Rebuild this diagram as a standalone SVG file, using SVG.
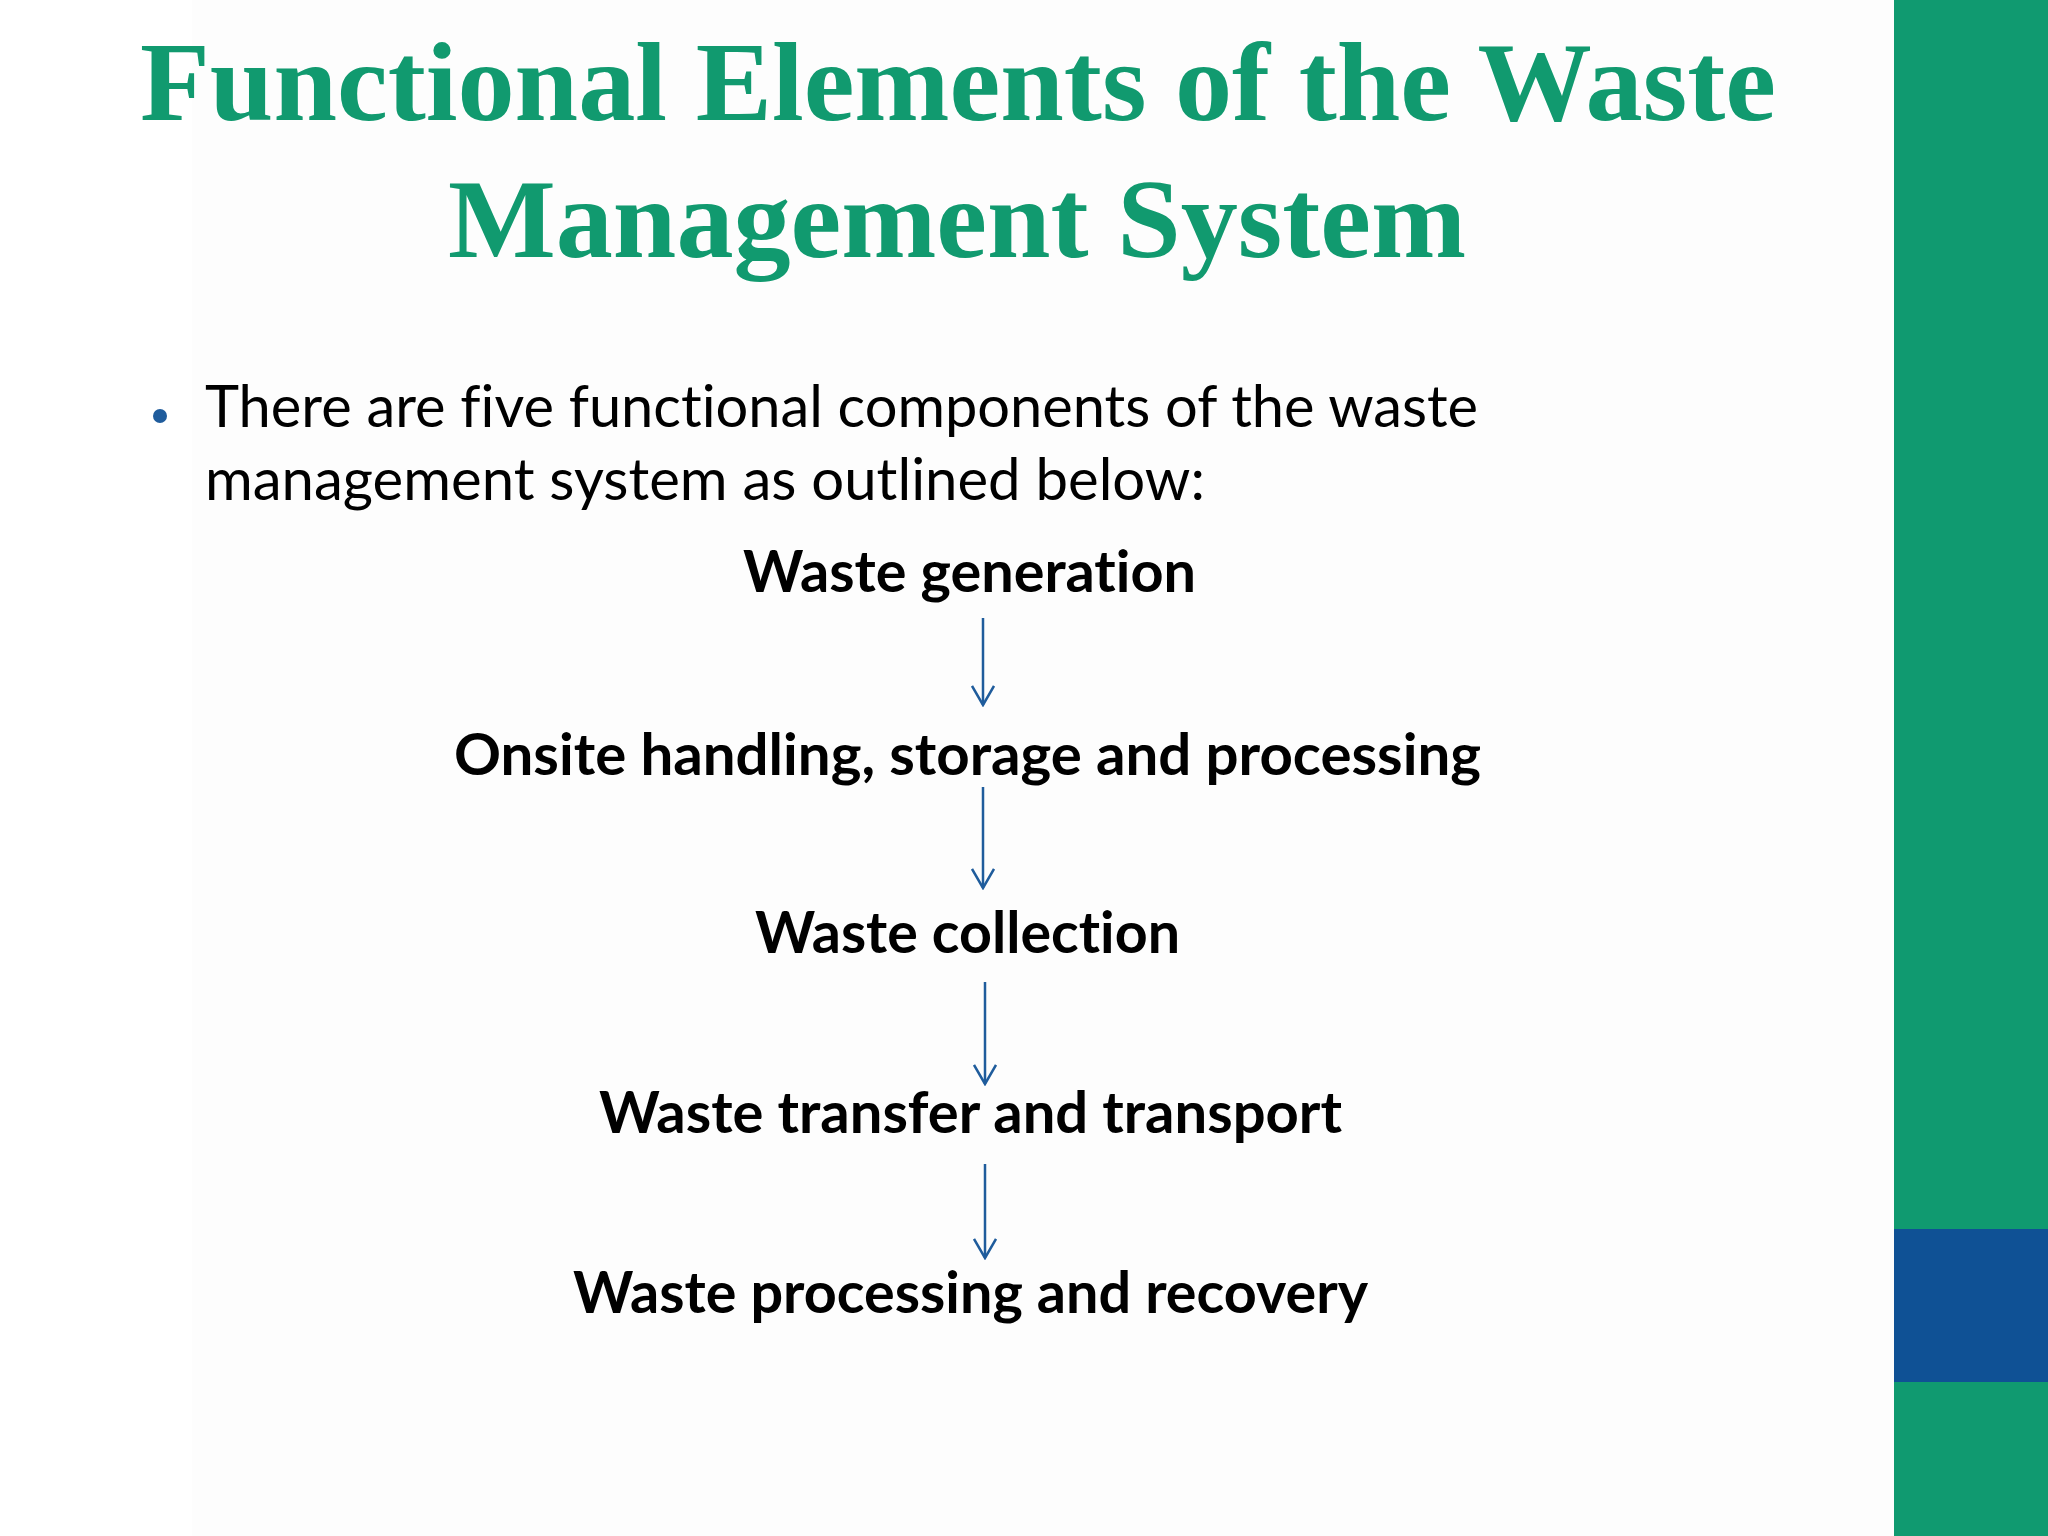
<svg xmlns="http://www.w3.org/2000/svg" width="2048" height="1536" viewBox="0 0 2048 1536">
<style>
.title{font-family:"Liberation Serif","DejaVu Serif",serif;font-weight:bold;font-size:112px;fill:#119A6F}
.body{font-family:Lato,"Open Sans","Liberation Sans",sans-serif;font-size:58px;fill:#000;font-variant-ligatures:none}
.node{font-family:Lato,"Open Sans","Liberation Sans",sans-serif;font-weight:bold;font-size:58px;fill:#000;font-variant-ligatures:none}
.arrow{stroke:#1F5C9C;stroke-width:2.5;fill:none}
</style>
<defs>
<marker id="vhead" viewBox="0 0 22 24" refX="20" refY="12" markerWidth="22" markerHeight="24" markerUnits="userSpaceOnUse" orient="auto">
<path d="M1,1 L20,12 L1,23" fill="none" stroke="#1F5C9C" stroke-width="2.5"/>
</marker>
</defs>
<rect x="0" y="0" width="2048" height="1536" fill="#FFFFFF"/>
<rect x="192" y="0" width="1702" height="1536" fill="#FDFDFD"/>
<g id="sidebar">
<rect x="1894" y="0" width="154" height="1536" fill="#109A70"/>
<rect x="1894" y="1229" width="154" height="153" fill="#0F5195"/>
</g>
<g id="title">
<text class="title" x="140" y="120" textLength="1636" lengthAdjust="spacingAndGlyphs">Functional Elements of the Waste</text>
<text class="title" x="448" y="257" textLength="1018" lengthAdjust="spacingAndGlyphs">Management System</text>
</g>
<g id="intro">
<circle cx="160" cy="416" r="7" fill="#1F5C9C"/>
<text class="body" x="205" y="427" textLength="1273" lengthAdjust="spacingAndGlyphs">There are five functional components of the waste</text>
<text class="body" x="205" y="500" textLength="1000" lengthAdjust="spacingAndGlyphs">management system as outlined below:</text>
</g>
<g id="node-generation">
<text class="node" x="743" y="592" textLength="453" lengthAdjust="spacingAndGlyphs">Waste generation</text>
</g>
<g id="node-onsite">
<text class="node" x="454" y="775" textLength="1027" lengthAdjust="spacingAndGlyphs">Onsite handling, storage and processing</text>
</g>
<g id="node-collection">
<text class="node" x="755" y="953" textLength="425" lengthAdjust="spacingAndGlyphs">Waste collection</text>
</g>
<g id="node-transfer">
<text class="node" x="599" y="1133" textLength="743" lengthAdjust="spacingAndGlyphs">Waste transfer and transport</text>
</g>
<g id="node-processing">
<text class="node" x="573" y="1313" textLength="795" lengthAdjust="spacingAndGlyphs">Waste processing and recovery</text>
</g>
<g id="connectors">
<line class="arrow" x1="983" y1="618" x2="983" y2="705" marker-end="url(#vhead)"/>
<line class="arrow" x1="983" y1="787" x2="983" y2="888" marker-end="url(#vhead)"/>
<line class="arrow" x1="985" y1="982" x2="985" y2="1084" marker-end="url(#vhead)"/>
<line class="arrow" x1="985" y1="1164" x2="985" y2="1258" marker-end="url(#vhead)"/>
</g>
</svg>
